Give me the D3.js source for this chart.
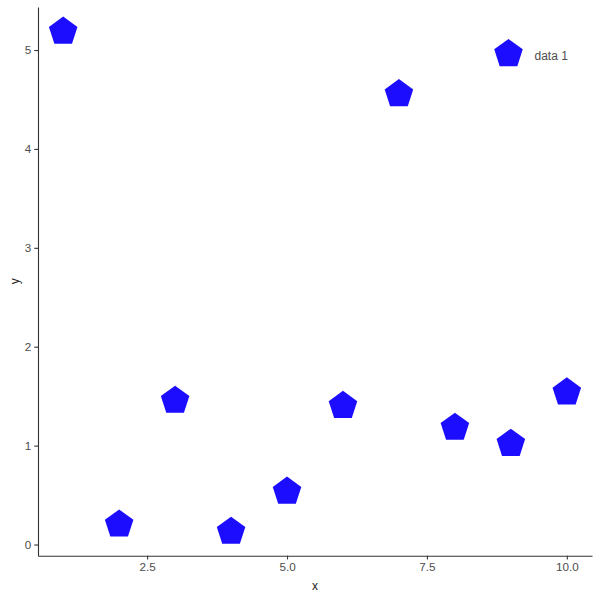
<!DOCTYPE html>
<html>
<head>
<meta charset="utf-8">
<script src="https://cdn.jsdelivr.net/npm/d3@7"></script>
<style>
  html, body { margin: 0; padding: 0; background: #fff; }
  text { font-family: "Liberation Sans", Arial, sans-serif; }
</style>
</head>
<body>
<svg id="chart" width="600" height="600"></svg>
<script>
const xValues = [1, 2, 3, 4, 5, 6, 7, 8, 9, 10];
const yValues = [5.187, 0.203, 1.454, 0.130, 0.535, 1.403, 4.555, 1.181, 1.019, 1.539];
const seriesName = "data 1";
const xTicks = [2.5, 5.0, 7.5, 10.0];
const yTicks = [0, 1, 2, 3, 4, 5];

const svg = d3.select("#chart");
const panel = { left: 38, right: 592, top: 7, bottom: 555.7 };
const color = "#1c0dff";

const x = d3.scaleLinear().domain([0.55, 10.45]).range([panel.left, panel.right]);
const y = d3.scaleLinear().domain([-0.113, 5.435]).range([panel.bottom, panel.top]);

const pentagon = {
  draw(context, size) {
    const r = Math.sqrt(size);
    for (let i = 0; i < 5; i++) {
      const a = -Math.PI / 2 + i * 2 * Math.PI / 5;
      const px = r * Math.cos(a), py = r * Math.sin(a);
      if (i === 0) context.moveTo(px, py); else context.lineTo(px, py);
    }
    context.closePath();
  }
};
const sym = d3.symbol().type(pentagon).size(15 * 15);

const data = xValues.map((v, i) => ({ x: v, y: yValues[i] }));

// axes
const xAxis = d3.axisBottom(x).tickValues(xTicks).tickFormat(d3.format(".1f"))
  .tickSizeInner(3.7).tickSizeOuter(0).tickPadding(3);
const yAxis = d3.axisLeft(y).tickValues(yTicks).tickFormat(d3.format("d"))
  .tickSizeInner(3.7).tickSizeOuter(0).tickPadding(3);

const gx = svg.append("g").attr("transform", `translate(0,${panel.bottom})`).call(xAxis);
const gy = svg.append("g").attr("transform", `translate(${panel.left},0)`).call(yAxis);
[gx, gy].forEach(g => {
  g.select(".domain").attr("stroke", "#333").attr("stroke-width", 1.1);
  g.selectAll(".tick line").attr("stroke", "#333").attr("stroke-width", 1.1);
  g.selectAll(".tick text").attr("fill", "#4d4d4d").style("font-size", "11.7px")
    .style("font-family", '"Liberation Sans", Arial, sans-serif');
});

svg.append("text").attr("x", (panel.left + panel.right) / 2).attr("y", 590)
  .attr("text-anchor", "middle").attr("fill", "#222").style("font-size", "12px").text("x");
svg.append("text").attr("transform", `translate(19,${(panel.top + panel.bottom) / 2}) rotate(-90)`)
  .attr("text-anchor", "middle").attr("fill", "#222").style("font-size", "12px").text("y");

svg.append("g").selectAll("path").data(data).join("path")
  .attr("transform", d => `translate(${x(d.x)},${y(d.y)})`)
  .attr("d", sym).attr("fill", color);

// legend
const lg = svg.append("g").attr("transform", "translate(508.5,54)");
lg.append("path").attr("d", sym).attr("fill", color);
lg.append("text").attr("x", 26).attr("y", 5.5).attr("fill", "#4d4d4d")
  .style("font-size", "12px").text(seriesName);
</script>
</body>
</html>
